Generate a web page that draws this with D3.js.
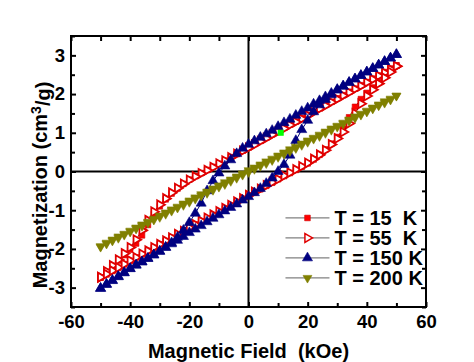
<!DOCTYPE html>
<head>
  <meta charset="utf-8">
  <script src="https://d3js.org/d3.v7.min.js"></script>
  <style type="text/css">
    body { margin: 0; background: #fff; }
    * { font-family: "Liberation Sans", Arial, sans-serif; }
  </style>
</head>
<body>
<div id="my_dataviz"></div>
<script>

// field values (kOe), sweep down then sweep up
var fieldDown = [50,48,46,44,42,40,38,36,34,32,30,28,26,24,22,20,18,16,14,12,10,8,6,4,2,0,
  -2,-4,-6,-8,-10,-12,-14,-16,-18,-20,-22,-24,-26,-28,-30,-32,-34,-36,-38,-40,-42,-44,-46,-48,-50];
var fieldUp = [-50,-48,-46,-44,-42,-40,-38,-36,-34,-32,-30,-28,-26,-24,-22,-20,-18,-16,-14,-12,-10,-8,-6,-4,-2,0,
  2,4,6,8,10,12,14,16,18,20,22,24,26,28,30,32,34,36,38,40,42,44,46,48,50];

// magnetization (cm3/g)
var m15Down = [2.74,2.66,2.57,2.48,2.40,2.31,2.23,2.14,2.06,1.97,1.89,1.80,1.72,1.63,1.55,1.46,1.38,1.29,1.21,1.13,
  1.05,0.96,0.88,0.79,0.71,0.62,0.54,0.45,0.37,0.28,0.20,0.12,0.04,-0.04,-0.12,-0.21,-0.32,-0.44,-0.57,-0.72,
  -0.90,-1.10,-1.38,-1.65,-1.86,-2.02,-2.16,-2.30,-2.44,-2.59,-2.74];
var m15Up = [-2.74,-2.66,-2.57,-2.49,-2.40,-2.31,-2.22,-2.14,-2.05,-1.97,-1.88,-1.80,-1.71,-1.63,-1.54,-1.46,-1.37,-1.29,-1.21,-1.13,
  -1.05,-0.96,-0.88,-0.79,-0.71,-0.62,-0.54,-0.46,-0.37,-0.29,-0.20,-0.12,-0.04,0.04,0.12,0.21,0.31,0.43,0.57,0.72,
  0.89,1.10,1.40,1.67,1.87,2.03,2.17,2.31,2.45,2.60,2.74];
var m55Down = [2.72,2.64,2.55,2.47,2.38,2.30,2.21,2.13,2.04,1.96,1.87,1.79,1.70,1.62,1.53,1.45,1.36,1.28,1.20,1.11,
  1.03,0.95,0.86,0.78,0.69,0.61,0.53,0.45,0.36,0.28,0.20,0.11,0.03,-0.05,-0.13,-0.22,-0.32,-0.43,-0.55,-0.70,
  -0.86,-1.04,-1.26,-1.52,-1.76,-1.96,-2.12,-2.28,-2.43,-2.58,-2.73];
var m55Up = [-2.73,-2.65,-2.56,-2.48,-2.39,-2.30,-2.22,-2.13,-2.05,-1.96,-1.88,-1.79,-1.71,-1.62,-1.54,-1.45,-1.37,-1.28,-1.20,-1.12,
  -1.03,-0.95,-0.87,-0.78,-0.70,-0.61,-0.53,-0.45,-0.36,-0.28,-0.20,-0.11,-0.03,0.05,0.13,0.22,0.32,0.43,0.55,0.70,
  0.85,1.02,1.24,1.50,1.75,1.95,2.11,2.27,2.42,2.57,2.72];
var m150Down = [3.02,2.93,2.84,2.75,2.66,2.57,2.48,2.39,2.30,2.21,2.12,2.02,1.93,1.83,1.74,1.64,1.55,1.45,1.35,1.26,
  1.16,1.06,0.97,0.88,0.79,0.70,0.60,0.46,0.30,0.14,-0.04,-0.24,-0.50,-0.82,-1.08,-1.32,-1.52,-1.70,-1.84,-1.96,
  -2.06,-2.16,-2.25,-2.34,-2.42,-2.51,-2.61,-2.71,-2.81,-2.91,-3.02];
var m150Up = [-3.02,-2.92,-2.82,-2.72,-2.62,-2.51,-2.42,-2.33,-2.24,-2.15,-2.06,-1.96,-1.87,-1.78,-1.68,-1.58,-1.49,-1.40,-1.30,-1.21,
  -1.12,-1.02,-0.93,-0.84,-0.74,-0.65,-0.55,-0.44,-0.31,-0.17,0.00,0.18,0.42,0.80,1.08,1.32,1.54,1.72,1.86,1.98,
  2.10,2.20,2.30,2.39,2.48,2.57,2.66,2.75,2.84,2.93,3.02];
var m200Down = [1.96,1.88,1.81,1.73,1.65,1.57,1.49,1.42,1.34,1.26,1.18,1.11,1.03,0.95,0.87,0.80,0.72,0.64,0.57,0.49,
  0.41,0.33,0.26,0.18,0.10,0.03,-0.05,-0.13,-0.21,-0.28,-0.36,-0.44,-0.52,-0.59,-0.67,-0.75,-0.83,-0.91,-0.98,-1.06,
  -1.14,-1.22,-1.30,-1.37,-1.45,-1.53,-1.61,-1.68,-1.76,-1.84,-1.93];
var m200Up = [-1.95,-1.87,-1.79,-1.72,-1.64,-1.56,-1.48,-1.41,-1.33,-1.25,-1.18,-1.10,-1.02,-0.94,-0.87,-0.79,-0.71,-0.63,-0.56,-0.48,
  -0.40,-0.33,-0.25,-0.17,-0.09,-0.02,0.06,0.14,0.21,0.29,0.37,0.45,0.52,0.60,0.68,0.76,0.84,0.91,0.99,1.07,
  1.15,1.23,1.30,1.38,1.46,1.54,1.62,1.70,1.77,1.85,1.95];

// the lone green point
var greenField = [10.9];
var greenM = [1.0];

var legendLabels = ["T = 15  K", "T = 55  K", "T = 150 K", "T = 200 K"];
var xTicks = [-60, -40, -20, 0, 20, 40, 60];
var yTicks = [-3, -2, -1, 0, 1, 2, 3];

// series description
var series = [
  { label: legendLabels[0], down: m15Down, up: m15Up, shape: d3.symbolSquare, size: 32, rot: 0,
    fill: "#ff0000", stroke: "#d00000", line: "#b00000" },
  { label: legendLabels[1], down: m55Down, up: m55Up, shape: d3.symbolTriangle, size: 34, rot: 90,
    fill: "#ffffff", stroke: "#e00000", line: "#900000" },
  { label: legendLabels[2], down: m150Down, up: m150Up, shape: d3.symbolTriangle, size: 44, rot: 0,
    fill: "#000080", stroke: "#000080", line: "#000080" },
  { label: legendLabels[3], down: m200Down, up: m200Up, shape: d3.symbolTriangle, size: 34, rot: 180,
    fill: "#808000", stroke: "#808000", line: "#808000" }
];

var W = 474, H = 362;
var margin = {top: 36, right: 48, bottom: 55, left: 71},
    width = W - margin.left - margin.right,
    height = H - margin.top - margin.bottom;

var svg = d3.select("#my_dataviz")
  .append("svg")
    .attr("width", W)
    .attr("height", H)
  .append("g")
    .attr("transform", "translate(" + margin.left + "," + margin.top + ")");

var x = d3.scaleLinear().domain([-60, 60]).range([0, width]);
var y = d3.scaleLinear().domain([-3.5, 3.5]).range([height, 0]);

var minorX = d3.range(-50, 60, 20);
var minorY = d3.range(-3.5, 3.6, 1);

// plain hyphen for negatives, like the original
var fmt = function(d) { return String(d); };

// ticks, pointing inward on all four sides
function styleAxis(g) {
  g.select(".domain").remove();
  g.selectAll(".tick line").attr("stroke", "#000").attr("stroke-width", 2);
  g.selectAll(".tick text")
    .attr("fill", "#000")
    .style("font-size", "18.5px")
    .style("font-weight", "bold");
}

svg.append("g")
  .attr("transform", "translate(0," + height + ")")
  .call(d3.axisBottom(x).tickValues(xTicks).tickSize(-5).tickPadding(8).tickFormat(fmt))
  .call(styleAxis)
  .selectAll(".tick text").attr("dy", "0.71em");
svg.append("g")
  .attr("transform", "translate(0," + height + ")")
  .call(d3.axisBottom(x).tickValues(minorX).tickSize(-4).tickFormat(""))
  .call(styleAxis);
svg.append("g")
  .call(d3.axisTop(x).tickValues(xTicks.concat(minorX)).tickSize(-5).tickFormat(""))
  .call(styleAxis);

svg.append("g")
  .call(d3.axisLeft(y).tickValues(yTicks).tickSize(-5).tickPadding(6).tickFormat(fmt))
  .call(styleAxis);
svg.append("g")
  .call(d3.axisLeft(y).tickValues(minorY).tickSize(-4).tickFormat(""))
  .call(styleAxis);
svg.append("g")
  .attr("transform", "translate(" + width + ",0)")
  .call(d3.axisRight(y).tickValues(yTicks).tickSize(-5).tickFormat(""))
  .call(styleAxis);
svg.append("g")
  .attr("transform", "translate(" + width + ",0)")
  .call(d3.axisRight(y).tickValues(minorY).tickSize(-4).tickFormat(""))
  .call(styleAxis);

// frame and zero lines
svg.append("rect")
  .attr("width", width).attr("height", height)
  .attr("fill", "none").attr("stroke", "#000").attr("stroke-width", 2);
svg.append("line")
  .attr("x1", 0).attr("x2", width).attr("y1", y(0)).attr("y2", y(0))
  .attr("stroke", "#000").attr("stroke-width", 2);
svg.append("line")
  .attr("x1", x(0)).attr("x2", x(0)).attr("y1", 0).attr("y2", height)
  .attr("stroke", "#000").attr("stroke-width", 2);

// data lines + markers
var line = d3.line()
  .x(function(d) { return x(d[0]); })
  .y(function(d) { return y(d[1]); });

series.forEach(function(s) {
  var pts = fieldDown.map(function(h, i) { return [h, s.down[i]]; })
    .concat(fieldUp.map(function(h, i) { return [h, s.up[i]]; }));

  svg.append("path")
    .datum(pts)
    .attr("fill", "none")
    .attr("stroke", s.line)
    .attr("stroke-width", 1)
    .attr("d", line);

  svg.append("g")
    .selectAll("path")
    .data(pts)
    .enter()
    .append("path")
      .attr("d", d3.symbol().type(s.shape).size(s.size))
      .attr("transform", function(d) {
        return "translate(" + x(d[0]) + "," + y(d[1]) + ") rotate(" + s.rot + ")";
      })
      .attr("fill", s.fill)
      .attr("stroke", s.stroke)
      .attr("stroke-width", s.fill == "#ffffff" ? 1.8 : 0.6);
});

svg.append("g")
  .selectAll("rect")
  .data(greenField)
  .enter()
  .append("rect")
    .attr("x", function(d) { return x(d) - 3; })
    .attr("y", function(d, i) { return y(greenM[i]) - 3; })
    .attr("width", 6).attr("height", 6)
    .attr("fill", "#00ff00");

// legend, lower right inside the frame
var legend = svg.append("g")
  .attr("transform", "translate(" + x(12.5) + "," + y(-1.2) + ")");

series.forEach(function(s, i) {
  var row = legend.append("g").attr("transform", "translate(0," + (i * 20) + ")");
  row.append("line")
    .attr("x1", 0).attr("x2", 44)
    .attr("stroke", "#808080").attr("stroke-width", 1.2);
  row.append("path")
    .attr("d", d3.symbol().type(s.shape).size(s.size))
    .attr("transform", "translate(22,0) rotate(" + s.rot + ")")
    .attr("fill", s.fill)
    .attr("stroke", s.stroke)
    .attr("stroke-width", s.fill == "#ffffff" ? 1.5 : 0.6);
  row.append("text")
    .attr("x", 49)
    .attr("dy", "0.36em")
    .style("font-size", "20px")
    .style("font-weight", "bold")
    .style("white-space", "pre")
    .text(s.label);
});

// axis titles
svg.append("text")
  .attr("x", x(0))
  .attr("y", height + 51)
  .attr("text-anchor", "middle")
  .style("font-size", "20px")
  .style("font-weight", "bold")
  .style("white-space", "pre")
  .text("Magnetic Field  (kOe)");

var yTitle = svg.append("text")
  .attr("transform", "translate(" + (47 - margin.left) + "," + (185 - margin.top) + ") rotate(-90)")
  .attr("text-anchor", "middle")
  .style("font-size", "20px")
  .style("font-weight", "bold");
yTitle.append("tspan").text("Magnetization (cm");
yTitle.append("tspan").attr("dy", "-0.45em").style("font-size", "14px").text("3");
yTitle.append("tspan").attr("dy", "0.45em").text("/g)");

</script>
</body>
</html>
